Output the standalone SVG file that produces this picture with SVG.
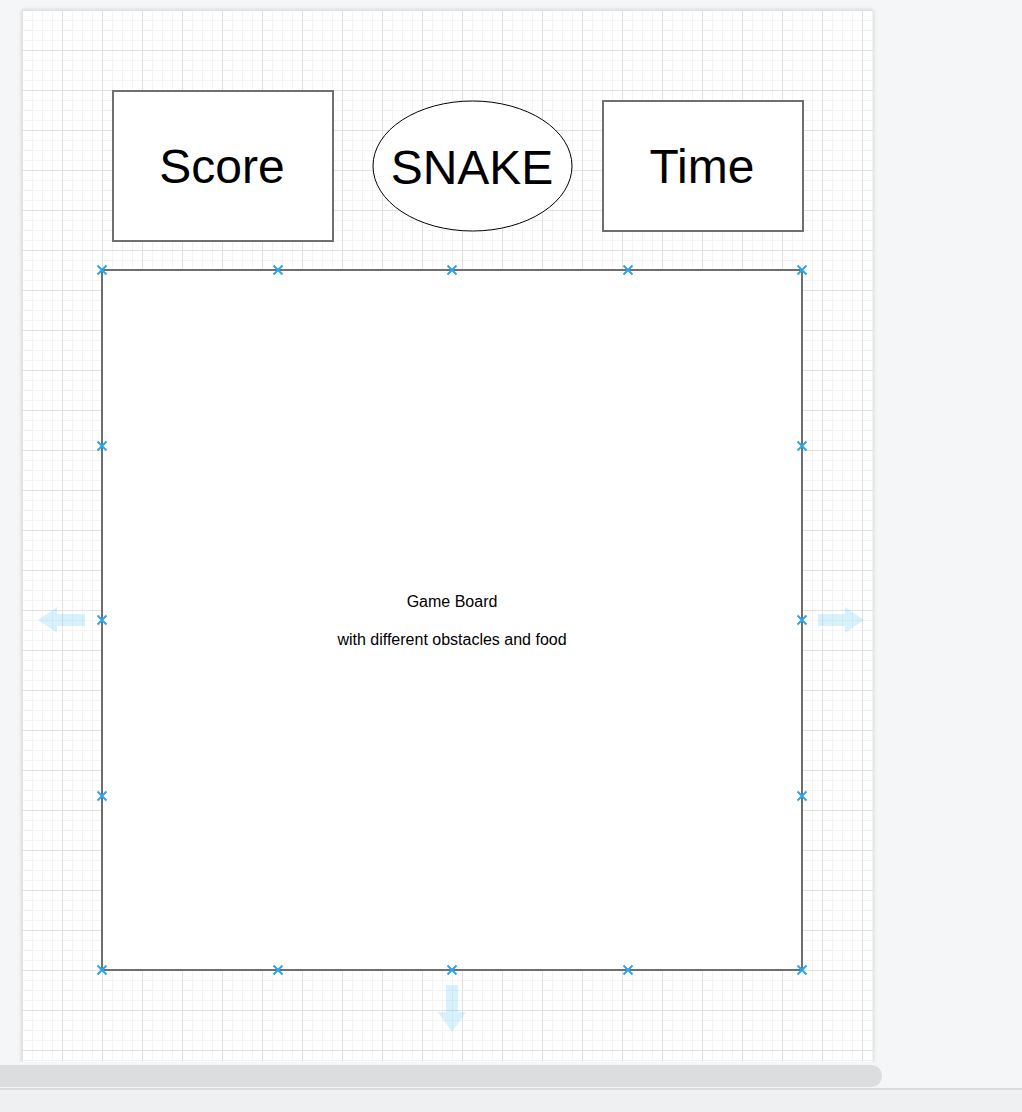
<svg xmlns="http://www.w3.org/2000/svg" xmlns:xlink="http://www.w3.org/1999/xlink" width="1022" height="1112" viewBox="0 0 1022 1112">
  <style>
    .box { fill: #ffffff; stroke: #6f6f6f; stroke-width: 2; }
    .big { font-family: "Liberation Sans", Arial, sans-serif; font-size: 48px; fill: #000; text-anchor: middle; }
    .small { font-family: "Liberation Sans", Arial, sans-serif; font-size: 16px; fill: #000; text-anchor: middle; }
    .cp { stroke: #2fa4e7; stroke-width: 2; fill: none; }
    .hint { fill: #29b6f2; fill-opacity: 0.18; }
  </style>
  <defs>
    <pattern id="minor" x="22" y="10" width="10" height="10" patternUnits="userSpaceOnUse">
      <path d="M0 0 H10 M0 0 V10" stroke="#f3f3f3" stroke-width="2" fill="none"/>
    </pattern>
    <pattern id="major" x="22" y="10" width="40" height="40" patternUnits="userSpaceOnUse">
      <path d="M0 0 H40 M0 0 V40" stroke="#cfcfcf" stroke-width="1" fill="none"/>
    </pattern>
    <filter id="shadow" x="-5%" y="-5%" width="110%" height="110%">
      <feGaussianBlur in="SourceAlpha" stdDeviation="2"/>
      <feComponentTransfer><feFuncA type="linear" slope="0.18"/></feComponentTransfer>
      <feMerge><feMergeNode/><feMergeNode in="SourceGraphic"/></feMerge>
    </filter>
    <g id="x">
      <path class="cp" d="M-4.5 -4.5 L4.5 4.5 M-4.5 4.5 L4.5 -4.5"/>
    </g>
  </defs>

  <!-- canvas background -->
  <rect x="0" y="0" width="1022" height="1112" fill="#f5f6f8"/>

  <!-- page -->
  <g id="page">
    <rect x="22" y="10" width="851" height="1060" fill="#ffffff" filter="url(#shadow)"/>
    <rect x="22" y="10" width="851" height="1052" fill="url(#minor)"/>
    <rect x="22" y="10" width="851" height="1052" fill="url(#major)"/>
  </g>

  <!-- nodes -->
  <g id="score">
    <rect class="box" x="113" y="91" width="220" height="150"/>
    <text class="big" x="222" y="183">Score</text>
  </g>
  <g id="snake">
    <ellipse cx="472.5" cy="166" rx="99.5" ry="65" fill="#ffffff" stroke="#000" stroke-width="1"/>
    <text class="big" x="472" y="184">SNAKE</text>
  </g>
  <g id="time">
    <rect class="box" x="603" y="101" width="200" height="130"/>
    <text class="big" x="702" y="183">Time</text>
  </g>
  <g id="gameboard">
    <rect class="box" x="102" y="270" width="700" height="700"/>
    <text class="small" x="452" y="607">Game Board</text>
    <text class="small" x="452" y="645">with different obstacles and food</text>
  </g>

  <!-- connectors (none; connection point hints only) -->
  <g id="connectors">
    <use xlink:href="#x" x="102" y="270"/>
    <use xlink:href="#x" x="278" y="270"/>
    <use xlink:href="#x" x="452" y="270"/>
    <use xlink:href="#x" x="628" y="270"/>
    <use xlink:href="#x" x="802" y="270"/>
    <use xlink:href="#x" x="102" y="446"/>
    <use xlink:href="#x" x="802" y="446"/>
    <use xlink:href="#x" x="102" y="620"/>
    <use xlink:href="#x" x="802" y="620"/>
    <use xlink:href="#x" x="102" y="796"/>
    <use xlink:href="#x" x="802" y="796"/>
    <use xlink:href="#x" x="102" y="970"/>
    <use xlink:href="#x" x="278" y="970"/>
    <use xlink:href="#x" x="452" y="970"/>
    <use xlink:href="#x" x="628" y="970"/>
    <use xlink:href="#x" x="802" y="970"/>
    <!-- hover arrows -->
    <path class="hint" d="M38 620 L57 607 L57 614 L85 614 L85 626 L57 626 L57 633 Z"/>
    <path class="hint" d="M864 620 L845 607 L845 614 L818 614 L818 626 L845 626 L845 633 Z"/>
    <path class="hint" d="M452 1032 L438 1012 L446 1012 L446 985 L458 985 L458 1012 L466 1012 Z"/>
  </g>

  <!-- scrollbar / footer -->
  <g id="chrome">
    <rect x="0" y="1062" width="1022" height="50" fill="#f5f6f8"/>
    <rect x="-20" y="1065" width="902" height="22" rx="11" fill="#dcdddf"/>
    <rect x="0" y="1088" width="1022" height="2" fill="#d9dadc"/>
    <rect x="0" y="1090" width="1022" height="22" fill="#eff0f2"/>
  </g>
</svg>
